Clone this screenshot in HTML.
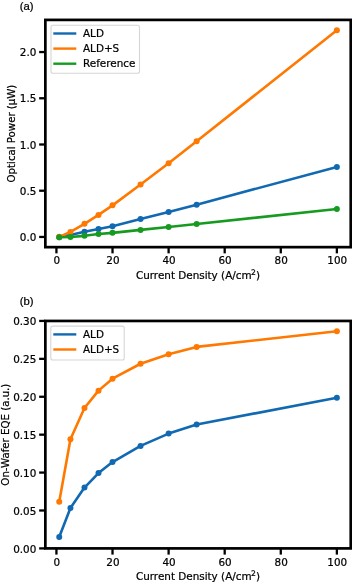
<!DOCTYPE html>
<html><head><meta charset="utf-8"><style>
html,body{margin:0;padding:0;background:#fff;}
body{width:352px;height:582px;overflow:hidden;}
svg{display:block;}
svg text{font-family:"DejaVu Sans", "Liberation Sans", sans-serif;font-size:10.4px;fill:#000;stroke:#000;stroke-width:0.22px;}
svg text.pl{font-family:"Liberation Sans", Arial, sans-serif;font-size:11.3px;}
</style></head><body>
<svg width="352" height="582" viewBox="0 0 352 582">
<rect width="352" height="582" fill="#fff"/>
<polyline points="59.23,237.21 70.45,234.99 84.47,231.84 98.5,228.97 112.52,226.29 140.56,219.06 168.61,212.02 196.65,204.71 336.87,166.92" fill="none" stroke="#1169b2" stroke-width="2.6" stroke-linejoin="round" stroke-linecap="butt"/>
<circle cx="59.23" cy="237.21" r="3.0" fill="#1169b2"/>
<circle cx="70.45" cy="234.99" r="3.0" fill="#1169b2"/>
<circle cx="84.47" cy="231.84" r="3.0" fill="#1169b2"/>
<circle cx="98.5" cy="228.97" r="3.0" fill="#1169b2"/>
<circle cx="112.52" cy="226.29" r="3.0" fill="#1169b2"/>
<circle cx="140.56" cy="219.06" r="3.0" fill="#1169b2"/>
<circle cx="168.61" cy="212.02" r="3.0" fill="#1169b2"/>
<circle cx="196.65" cy="204.71" r="3.0" fill="#1169b2"/>
<circle cx="336.87" cy="166.92" r="3.0" fill="#1169b2"/>
<polyline points="59.23,236.84 70.45,231.94 84.47,223.79 98.5,214.9 112.52,205.36 140.56,184.43 168.61,163.31 196.65,141.18 336.87,30.23" fill="none" stroke="#ff7800" stroke-width="2.6" stroke-linejoin="round" stroke-linecap="butt"/>
<circle cx="59.23" cy="236.84" r="3.0" fill="#ff7800"/>
<circle cx="70.45" cy="231.94" r="3.0" fill="#ff7800"/>
<circle cx="84.47" cy="223.79" r="3.0" fill="#ff7800"/>
<circle cx="98.5" cy="214.9" r="3.0" fill="#ff7800"/>
<circle cx="112.52" cy="205.36" r="3.0" fill="#ff7800"/>
<circle cx="140.56" cy="184.43" r="3.0" fill="#ff7800"/>
<circle cx="168.61" cy="163.31" r="3.0" fill="#ff7800"/>
<circle cx="196.65" cy="141.18" r="3.0" fill="#ff7800"/>
<circle cx="336.87" cy="30.23" r="3.0" fill="#ff7800"/>
<polyline points="59.23,237.21 70.45,237.03 84.47,235.83 98.5,234.07 112.52,232.86 140.56,229.9 168.61,227.03 196.65,224.06 336.87,208.97" fill="none" stroke="#169b20" stroke-width="2.6" stroke-linejoin="round" stroke-linecap="butt"/>
<circle cx="59.23" cy="237.21" r="3.0" fill="#169b20"/>
<circle cx="70.45" cy="237.03" r="3.0" fill="#169b20"/>
<circle cx="84.47" cy="235.83" r="3.0" fill="#169b20"/>
<circle cx="98.5" cy="234.07" r="3.0" fill="#169b20"/>
<circle cx="112.52" cy="232.86" r="3.0" fill="#169b20"/>
<circle cx="140.56" cy="229.9" r="3.0" fill="#169b20"/>
<circle cx="168.61" cy="227.03" r="3.0" fill="#169b20"/>
<circle cx="196.65" cy="224.06" r="3.0" fill="#169b20"/>
<circle cx="336.87" cy="208.97" r="3.0" fill="#169b20"/>
<rect x="51.0" y="25.2" width="88.5" height="48.1" rx="2" fill="#fff" fill-opacity="0.8" stroke="#d6d6d6" stroke-width="1.1"/>
<line x1="53.3" y1="33.5" x2="76.3" y2="33.5" stroke="#1169b2" stroke-width="2.4"/>
<text x="83.0" y="37.2">ALD</text>
<line x1="53.3" y1="48.6" x2="76.3" y2="48.6" stroke="#ff7800" stroke-width="2.4"/>
<text x="83.0" y="52.3">ALD+S</text>
<line x1="53.3" y1="63.7" x2="76.3" y2="63.7" stroke="#169b20" stroke-width="2.4"/>
<text x="83.0" y="67.4">Reference</text>
<rect x="45.35" y="19.9" width="305.4" height="227.25" fill="none" stroke="#000" stroke-width="2.7"/>
<line x1="39.15" y1="236.95" x2="45.35" y2="236.95" stroke="#000" stroke-width="2.3"/>
<text x="36.3" y="241.15" text-anchor="end">0.0</text>
<line x1="39.15" y1="190.72" x2="45.35" y2="190.72" stroke="#000" stroke-width="2.3"/>
<text x="36.3" y="194.92" text-anchor="end">0.5</text>
<line x1="39.15" y1="144.5" x2="45.35" y2="144.5" stroke="#000" stroke-width="2.3"/>
<text x="36.3" y="148.7" text-anchor="end">1.0</text>
<line x1="39.15" y1="98.27" x2="45.35" y2="98.27" stroke="#000" stroke-width="2.3"/>
<text x="36.3" y="102.47" text-anchor="end">1.5</text>
<line x1="39.15" y1="52.05" x2="45.35" y2="52.05" stroke="#000" stroke-width="2.3"/>
<text x="36.3" y="56.25" text-anchor="end">2.0</text>
<line x1="56.43" y1="247.15" x2="56.43" y2="253.35" stroke="#000" stroke-width="2.3"/>
<text x="56.83" y="264.25" text-anchor="middle">0</text>
<line x1="112.52" y1="247.15" x2="112.52" y2="253.35" stroke="#000" stroke-width="2.3"/>
<text x="112.92" y="264.25" text-anchor="middle">20</text>
<line x1="168.61" y1="247.15" x2="168.61" y2="253.35" stroke="#000" stroke-width="2.3"/>
<text x="169.01" y="264.25" text-anchor="middle">40</text>
<line x1="224.69" y1="247.15" x2="224.69" y2="253.35" stroke="#000" stroke-width="2.3"/>
<text x="225.09" y="264.25" text-anchor="middle">60</text>
<line x1="280.78" y1="247.15" x2="280.78" y2="253.35" stroke="#000" stroke-width="2.3"/>
<text x="281.18" y="264.25" text-anchor="middle">80</text>
<line x1="336.87" y1="247.15" x2="336.87" y2="253.35" stroke="#000" stroke-width="2.3"/>
<text x="337.27" y="264.25" text-anchor="middle">100</text>
<text x="198.0" y="278.75" text-anchor="middle">Current Density (A/cm<tspan font-size="7.7" dx="-0.5" dy="-3.6">2</tspan><tspan dy="3.6">)</tspan></text>
<text style="font-size:10.2px" transform="translate(14.7,133.53) rotate(-90)" text-anchor="middle">Optical Power (µW)</text>
<text class="pl" x="19.7" y="10.0">(a)</text>
<polyline points="59.23,536.95 70.45,507.95 84.47,487.6 98.5,473.1 112.52,462.09 140.56,445.91 168.61,433.61 196.65,424.5 336.87,397.77" fill="none" stroke="#1169b2" stroke-width="2.6" stroke-linejoin="round" stroke-linecap="butt"/>
<circle cx="59.23" cy="536.95" r="3.0" fill="#1169b2"/>
<circle cx="70.45" cy="507.95" r="3.0" fill="#1169b2"/>
<circle cx="84.47" cy="487.6" r="3.0" fill="#1169b2"/>
<circle cx="98.5" cy="473.1" r="3.0" fill="#1169b2"/>
<circle cx="112.52" cy="462.09" r="3.0" fill="#1169b2"/>
<circle cx="140.56" cy="445.91" r="3.0" fill="#1169b2"/>
<circle cx="168.61" cy="433.61" r="3.0" fill="#1169b2"/>
<circle cx="196.65" cy="424.5" r="3.0" fill="#1169b2"/>
<circle cx="336.87" cy="397.77" r="3.0" fill="#1169b2"/>
<polyline points="59.23,501.72 70.45,439.23 84.47,408.02 98.5,390.63 112.52,378.64 140.56,363.75 168.61,354.19 196.65,346.9 336.87,331.33" fill="none" stroke="#ff7800" stroke-width="2.6" stroke-linejoin="round" stroke-linecap="butt"/>
<circle cx="59.23" cy="501.72" r="3.0" fill="#ff7800"/>
<circle cx="70.45" cy="439.23" r="3.0" fill="#ff7800"/>
<circle cx="84.47" cy="408.02" r="3.0" fill="#ff7800"/>
<circle cx="98.5" cy="390.63" r="3.0" fill="#ff7800"/>
<circle cx="112.52" cy="378.64" r="3.0" fill="#ff7800"/>
<circle cx="140.56" cy="363.75" r="3.0" fill="#ff7800"/>
<circle cx="168.61" cy="354.19" r="3.0" fill="#ff7800"/>
<circle cx="196.65" cy="346.9" r="3.0" fill="#ff7800"/>
<circle cx="336.87" cy="331.33" r="3.0" fill="#ff7800"/>
<rect x="50.8" y="326.1" width="73.4" height="33.9" rx="2" fill="#fff" fill-opacity="0.8" stroke="#d6d6d6" stroke-width="1.1"/>
<line x1="53.3" y1="334.4" x2="76.3" y2="334.4" stroke="#1169b2" stroke-width="2.4"/>
<text x="83.0" y="338.1">ALD</text>
<line x1="53.3" y1="349.5" x2="76.3" y2="349.5" stroke="#ff7800" stroke-width="2.4"/>
<text x="83.0" y="353.2">ALD+S</text>
<rect x="45.35" y="320.95" width="305.4" height="227.45" fill="none" stroke="#000" stroke-width="2.7"/>
<line x1="39.15" y1="548.4" x2="45.35" y2="548.4" stroke="#000" stroke-width="2.3"/>
<text x="36.3" y="552.6" text-anchor="end">0.00</text>
<line x1="39.15" y1="510.49" x2="45.35" y2="510.49" stroke="#000" stroke-width="2.3"/>
<text x="36.3" y="514.69" text-anchor="end">0.05</text>
<line x1="39.15" y1="472.58" x2="45.35" y2="472.58" stroke="#000" stroke-width="2.3"/>
<text x="36.3" y="476.78" text-anchor="end">0.10</text>
<line x1="39.15" y1="434.67" x2="45.35" y2="434.67" stroke="#000" stroke-width="2.3"/>
<text x="36.3" y="438.87" text-anchor="end">0.15</text>
<line x1="39.15" y1="396.76" x2="45.35" y2="396.76" stroke="#000" stroke-width="2.3"/>
<text x="36.3" y="400.96" text-anchor="end">0.20</text>
<line x1="39.15" y1="358.85" x2="45.35" y2="358.85" stroke="#000" stroke-width="2.3"/>
<text x="36.3" y="363.05" text-anchor="end">0.25</text>
<line x1="39.15" y1="320.94" x2="45.35" y2="320.94" stroke="#000" stroke-width="2.3"/>
<text x="36.3" y="325.14" text-anchor="end">0.30</text>
<line x1="56.43" y1="548.4" x2="56.43" y2="554.6" stroke="#000" stroke-width="2.3"/>
<text x="56.83" y="565.7" text-anchor="middle">0</text>
<line x1="112.52" y1="548.4" x2="112.52" y2="554.6" stroke="#000" stroke-width="2.3"/>
<text x="112.92" y="565.7" text-anchor="middle">20</text>
<line x1="168.61" y1="548.4" x2="168.61" y2="554.6" stroke="#000" stroke-width="2.3"/>
<text x="169.01" y="565.7" text-anchor="middle">40</text>
<line x1="224.69" y1="548.4" x2="224.69" y2="554.6" stroke="#000" stroke-width="2.3"/>
<text x="225.09" y="565.7" text-anchor="middle">60</text>
<line x1="280.78" y1="548.4" x2="280.78" y2="554.6" stroke="#000" stroke-width="2.3"/>
<text x="281.18" y="565.7" text-anchor="middle">80</text>
<line x1="336.87" y1="548.4" x2="336.87" y2="554.6" stroke="#000" stroke-width="2.3"/>
<text x="337.27" y="565.7" text-anchor="middle">100</text>
<text x="198.0" y="579.8" text-anchor="middle">Current Density (A/cm<tspan font-size="7.7" dx="-0.5" dy="-3.6">2</tspan><tspan dy="3.6">)</tspan></text>
<text style="font-size:10.2px" transform="translate(8.9,434.67) rotate(-90)" text-anchor="middle">On-Wafer EQE (a.u.)</text>
<text class="pl" x="19.7" y="305.4">(b)</text>
</svg>
</body></html>
